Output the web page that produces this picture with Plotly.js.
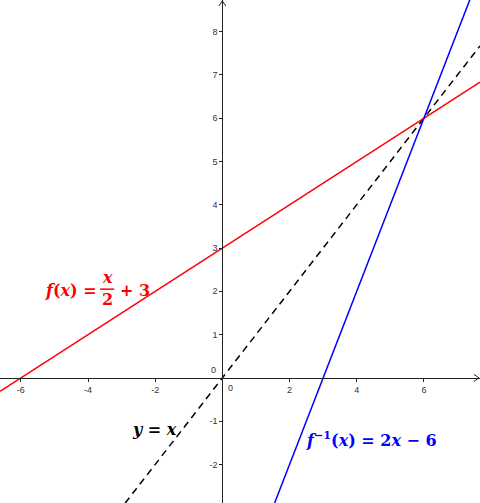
<!DOCTYPE html>
<html><head><meta charset="utf-8">
<script src="https://cdn.plot.ly/plotly-3.0.1.min.js"></script>
<style>html,body{margin:0;padding:0;background:#fff}#plot{width:480px;height:503px}</style>
</head><body><div id="plot"></div>
<script>
// Domain endpoints for each function line
const xs = [-6.62, 7.67];
const fVals = xs.map(x => x / 2 + 3);          // f(x) = x/2 + 3
const invXs = [1.555, 7.37];
const invVals = invXs.map(x => 2 * x - 6);     // f^-1(x) = 2x - 6
const idVals = xs.slice();                     // y = x
const xTicks = [-6, -4, -2, 2, 4, 6];
const yTicks = [-2, -1, 1, 2, 3, 4, 5, 6, 7, 8];

const xRange = [-6.62, 7.67];
const yRange = [-2.89, 8.73];
const xPos = (0 - yRange[0]) / (yRange[1] - yRange[0]);
const yPos = (0 - xRange[0]) / (xRange[1] - xRange[0]);

const traces = [
  {x: xs, y: idVals, mode: 'lines', line: {color: '#000', width: 1.5, dash: '7px,5px'}, hoverinfo: 'skip'},
  {x: xs, y: fVals, mode: 'lines', line: {color: '#ff0000', width: 1.5}, hoverinfo: 'skip'},
  {x: invXs, y: invVals, mode: 'lines', line: {color: '#0000ff', width: 1.5}, hoverinfo: 'skip'}
];

const mf = 'DejaVu Serif, serif';
const tf = {family: 'Liberation Sans, Arial, sans-serif', size: 9, color: '#333'};
const layout = {
  width: 480, height: 503,
  margin: {l: 0, r: 0, t: 0, b: 0},
  paper_bgcolor: '#fff', plot_bgcolor: '#fff',
  showlegend: false,
  xaxis: {range: xRange, anchor: 'free', position: xPos, showgrid: false, zeroline: false,
    showline: true, linecolor: '#222', linewidth: 1, ticks: 'outside', ticklen: 3, tickcolor: '#222',
    tickvals: xTicks, ticktext: xTicks.map(String), tickfont: tf, fixedrange: true},
  yaxis: {range: yRange, anchor: 'free', position: yPos, showgrid: false, zeroline: false,
    showline: true, linecolor: '#222', linewidth: 1, ticks: 'outside', ticklen: 3, tickcolor: '#222',
    tickvals: yTicks, ticktext: yTicks.map(String), tickfont: tf, fixedrange: true},
  shapes: [
    {type: 'line', xref: 'x', yref: 'y', x0: -3.64, x1: -3.22, y0: 2.05, y1: 2.05, line: {color: '#ff0000', width: 1.5}},
    {type: 'path', xref: 'paper', yref: 'y', xsizemode: 'pixel', ysizemode: 'pixel', xanchor: 1, yanchor: 0,
      path: 'M-6,-3.5 L-1,0 L-6,3.5', line: {color: '#222', width: 1}},
    {type: 'path', xref: 'x', yref: 'paper', xsizemode: 'pixel', ysizemode: 'pixel', xanchor: 0, yanchor: 1,
      path: 'M-3.5,-6 L0,-1 L3.5,-6', line: {color: '#222', width: 1}}
  ],
  annotations: [
    {xref: 'x', yref: 'y', x: 0.1, y: -0.07, xanchor: 'left', yanchor: 'top', showarrow: false, text: '0', font: tf},
    {xref: 'x', yref: 'y', x: -0.12, y: 0.02, xanchor: 'right', yanchor: 'bottom', showarrow: false, text: '0', font: tf},
    {xref: 'x', yref: 'y', x: -5.35, y: 2.03, xanchor: 'left', yanchor: 'middle', showarrow: false,
      text: '<b><i>f</i>(<i>x</i>) =</b>', font: {family: mf, size: 16, color: '#ff0000'}},
    {xref: 'x', yref: 'y', x: -3.43, y: 2.33, xanchor: 'center', yanchor: 'middle', showarrow: false,
      text: '<b><i>x</i></b>', font: {family: mf, size: 16, color: '#ff0000'}},
    {xref: 'x', yref: 'y', x: -3.43, y: 1.8, xanchor: 'center', yanchor: 'middle', showarrow: false,
      text: '<b>2</b>', font: {family: mf, size: 16, color: '#ff0000'}},
    {xref: 'x', yref: 'y', x: -3.12, y: 2.03, xanchor: 'left', yanchor: 'middle', showarrow: false,
      text: '<b>+ 3</b>', font: {family: mf, size: 16, color: '#ff0000'}},
    {xref: 'x', yref: 'y', x: -2.74, y: -1.2, xanchor: 'left', yanchor: 'middle', showarrow: false,
      text: '<b><i>y</i> = <i>x</i></b>', font: {family: mf, size: 16, color: '#000'}},
    {xref: 'x', yref: 'y', x: 2.42, y: -1.42, xanchor: 'left', yanchor: 'middle', showarrow: false,
      text: '<b><i>f</i><sup>−1</sup>(<i>x</i>) = 2<i>x</i> − 6</b>', font: {family: mf, size: 16, color: '#0000ff'}}
  ]
};
Plotly.newPlot('plot', traces, layout, {staticPlot: true, displayModeBar: false});
</script></body></html>
